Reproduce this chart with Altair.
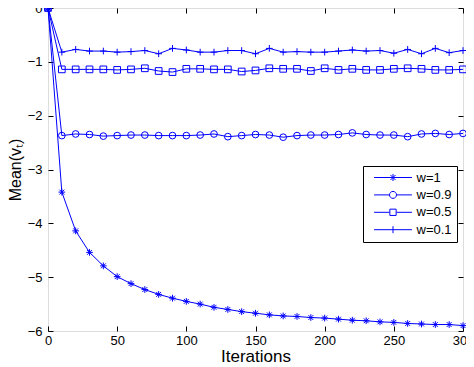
import altair as alt
import pandas as pd

iters = [0, 10, 20, 30, 40, 50, 60, 70, 80, 90, 100, 110, 120, 130, 140, 150,
         160, 170, 180, 190, 200, 210, 220, 230, 240, 250, 260, 270, 280, 290, 300]

w1 = [0, -3.42, -4.14, -4.54, -4.79, -4.99, -5.12, -5.23, -5.32, -5.39, -5.45, -5.50,
      -5.56, -5.60, -5.64, -5.67, -5.70, -5.72, -5.73, -5.75, -5.76, -5.78, -5.80,
      -5.81, -5.83, -5.84, -5.86, -5.87, -5.88, -5.88, -5.90]
w09 = [0, -2.37, -2.34, -2.35, -2.38, -2.37, -2.36, -2.36, -2.37, -2.37, -2.37, -2.36,
       -2.34, -2.39, -2.37, -2.35, -2.36, -2.40, -2.37, -2.36, -2.36, -2.35, -2.32,
       -2.35, -2.36, -2.36, -2.39, -2.34, -2.33, -2.35, -2.33]
w05 = [0, -1.14, -1.14, -1.14, -1.14, -1.15, -1.14, -1.12, -1.17, -1.19, -1.13, -1.13,
       -1.14, -1.14, -1.18, -1.16, -1.12, -1.13, -1.13, -1.17, -1.12, -1.15, -1.13,
       -1.15, -1.15, -1.13, -1.12, -1.13, -1.15, -1.15, -1.14]
w01 = [0, -0.82, -0.77, -0.80, -0.80, -0.82, -0.81, -0.79, -0.85, -0.75, -0.78, -0.82,
       -0.82, -0.79, -0.79, -0.85, -0.75, -0.82, -0.81, -0.82, -0.82, -0.80, -0.78,
       -0.80, -0.79, -0.84, -0.77, -0.85, -0.75, -0.83, -0.79]

series_names = ["w=1", "w=0.9", "w=0.5", "w=0.1"]
series_values = [w1, w09, w05, w01]
x_ticks = [0, 50, 100, 150, 200, 250, 300]
y_ticks = [0, -1, -2, -3, -4, -5, -6]

rows = []
for name, vals in zip(series_names, series_values):
    for it, v in zip(iters, vals):
        rows.append({"iter": it, "value": v, "series": name})
df = pd.DataFrame(rows)

BLUE = "#0000ff"
FONT = "Liberation Sans"

marker_shapes = [
    "M-1,0H1M0,-1V1M-0.72,-0.72L0.72,0.72M-0.72,0.72L0.72,-0.72",
    "circle",
    "square",
    "M-1,0H1M0,-1V1",
]
L = 5.4
legend_shapes = [
    f"M-{L},0H{L}M0,-1V1M-0.72,-0.72L0.72,0.72M-0.72,0.72L0.72,-0.72",
    f"M-{L},0H-1A1,1,0,1,1,1,0A1,1,0,1,1,-1,0M1,0H{L}",
    f"M-{L},0H-1M1,0H{L}M-0.9,-0.9H0.9V0.9H-0.9Z",
    f"M-{L},0H{L}M0,-1V1",
]

xscale = alt.Scale(domain=[0, 300], nice=False, zero=False)
yscale = alt.Scale(domain=[-6, 0], nice=False, zero=False)

axis_common = dict(grid=False, domain=False, tickSize=5, offset=-5,
                   tickColor="black", labelColor="black", titleColor="black",
                   labelFont=FONT, labelFontSize=13, titleFont=FONT,
                   titleFontWeight="normal", labelFlush=False)

x_bottom = alt.Axis(orient="bottom", values=x_ticks, labelPadding=3,
                    title="Iterations", titlePadding=1, titleFontSize=17, **axis_common)
y_left = alt.Axis(orient="left", values=y_ticks, labelPadding=6,
                  title="Mean(vₜ)", titlePadding=4, titleFontSize=16, **axis_common)
x_top = alt.Axis(orient="top", values=x_ticks, labels=False, title=None, **axis_common)
y_right = alt.Axis(orient="right", values=y_ticks, labels=False, title=None, **axis_common)

lines = alt.Chart(df).mark_line(color=BLUE, strokeWidth=1).encode(
    x=alt.X("iter:Q", scale=xscale, axis=x_bottom),
    y=alt.Y("value:Q", scale=yscale, axis=y_left),
    detail="series:N",
)

points = alt.Chart(df).mark_point(filled=False, color=BLUE, strokeWidth=1, size=45, opacity=1).encode(
    x=alt.X("iter:Q", scale=xscale, axis=x_top),
    y=alt.Y("value:Q", scale=yscale, axis=y_right),
    shape=alt.Shape("series:N", scale=alt.Scale(domain=series_names, range=marker_shapes), legend=None),
)

legend_layer = alt.Chart(df).transform_filter("datum.value > 100").mark_point(
    filled=False, color=BLUE, strokeWidth=1, size=49, opacity=1
).encode(
    x=alt.X("iter:Q", scale=xscale, axis=None),
    y=alt.Y("value:Q", scale=yscale, axis=None),
    shape=alt.Shape(
        "series:N",
        scale=alt.Scale(domain=series_names, range=legend_shapes),
        legend=alt.Legend(
            title=None, orient="none", legendX=315, legendY=158,
            strokeColor="black", fillColor="white", padding=5,
            symbolSize=49, symbolStrokeColor=BLUE, symbolFillColor="transparent",
            symbolStrokeWidth=1, symbolOffset=18.5, labelOffset=17,
            labelFont=FONT, labelFontSize=13, labelColor="black",
            rowPadding=3.4, symbolOpacity=1,
        ),
    ),
)

chart = alt.layer(lines, points, legend_layer).resolve_scale(shape="independent").properties(
    width=415, height=323,
    autosize=alt.AutoSizeParams(type="none"),
    padding={"left": 40, "top": 0, "right": 3, "bottom": 36},
).configure_view(stroke="black", strokeWidth=1).configure(background="white")

chart.save("out.html", embed_options={"renderer": "svg", "actions": False})
